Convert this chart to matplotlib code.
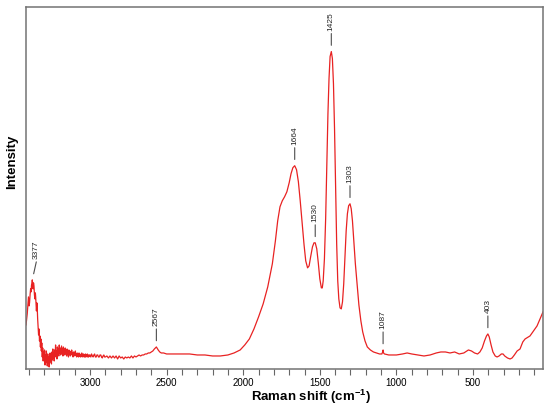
import numpy as np
import matplotlib
matplotlib.use("Agg")
import matplotlib.pyplot as plt

plt.rcParams['font.family'] = ['Liberation Sans', 'DejaVu Sans']
plt.rcParams['mathtext.fontset'] = 'custom'
plt.rcParams['mathtext.rm'] = 'Liberation Sans'
plt.rcParams['mathtext.bf'] = 'Liberation Sans:bold'

# Raman spectrum (shift in cm-1, intensity in arbitrary units)
# noisy high-wavenumber end
shift_hi = [
    3418, 3414, 3410, 3406, 3402, 3398, 3395, 3391, 3388, 3385, 3382, 3379, 3377, 3374,
    3372, 3369, 3366, 3363, 3360, 3357, 3355, 3352, 3350, 3347, 3345, 3342, 3340,
    3336, 3333, 3330, 3327, 3324, 3321, 3318, 3315, 3312, 3309, 3306, 3303, 3300, 3297,
    3294, 3291, 3288, 3285, 3282, 3279, 3276, 3273, 3270, 3267, 3264, 3261, 3258, 3255,
    3252, 3249, 3246, 3243, 3240, 3237, 3234, 3231, 3228, 3225, 3222, 3219, 3216, 3213,
    3210, 3207, 3204, 3201, 3198, 3195, 3192, 3189, 3186, 3183, 3180, 3177, 3174, 3171,
    3168, 3165, 3162, 3159, 3156, 3153, 3150, 3147, 3144, 3141, 3138, 3135, 3132, 3129,
    3126, 3123, 3120, 3117, 3114, 3111, 3108, 3105, 3102, 3099, 3096, 3093, 3090, 3087,
    3084, 3081, 3078, 3075, 3072, 3069, 3066, 3063, 3060, 3057, 3054, 3051, 3048, 3045,
    3042, 3039, 3036, 3033, 3030, 3027, 3024, 3021, 3018, 3015, 3012, 3009, 3006, 3003,
    3000, 2995, 2990, 2985, 2980, 2975, 2970, 2965, 2960, 2955, 2950, 2945, 2940, 2935,
    2930, 2925, 2920, 2915, 2910, 2905, 2900, 2890, 2880, 2870, 2860, 2850, 2840, 2830,
    2820, 2810, 2800, 2790, 2780, 2770, 2760, 2750, 2740, 2730, 2720, 2710, 2700,
]
intensity_hi = [
    44, 50, 55, 64, 72, 63, 66, 75, 80, 77, 84, 86, 89, 83,
    80, 86, 83, 74, 70, 76, 72, 63, 58, 66, 62, 50, 45,
    34, 40, 28, 33, 22, 30, 18, 26, 12, 21, 8, 17, 11, 19,
    4, 14, 7, 18, 9, 3, 15, 6, 12, 2, 10, 16, 7, 13,
    5, 17, 9, 20, 11, 15, 8, 19, 12, 24, 14, 18, 10, 22,
    15, 20, 13, 24, 16, 21, 14, 19, 23, 15, 20, 13, 22, 17,
    19, 14, 21, 16, 18, 13, 20, 15, 17, 12, 19, 15, 18, 13,
    17, 14, 19, 15, 16, 12, 17, 14, 16, 13, 18, 14, 15, 12,
    16, 13, 15, 12, 16, 13, 15, 12, 14, 13, 16, 12, 14, 13,
    15, 12, 14, 12, 15, 12, 14, 13, 15, 12, 14, 12, 14, 13,
    14, 12, 15, 13, 12, 14, 15, 12, 12, 14, 14, 12, 12, 14,
    14, 12, 11, 13, 14, 12, 12, 13, 11, 13, 11, 13, 11, 13,
    10, 13, 11, 12, 10, 12, 11, 12, 11, 13, 11, 13, 12,
]
# smoother remainder of the spectrum
shift_lo = [
    2690, 2680, 2670, 2660, 2650, 2640, 2630, 2620, 2610, 2600, 2590, 2580,
    2567, 2555, 2545, 2535, 2520, 2500, 2450, 2400, 2350, 2300, 2250, 2200, 2150, 2100,
    2060, 2020, 1990, 1960, 1930, 1900, 1870, 1840, 1810, 1790, 1775, 1760, 1745, 1730,
    1715, 1700, 1688, 1676, 1664, 1652, 1640, 1628, 1615, 1603, 1592, 1580, 1570, 1560,
    1548, 1538, 1530, 1520, 1510, 1500, 1490, 1484, 1478, 1470, 1462, 1455, 1447, 1440,
    1433, 1425, 1418, 1411, 1404, 1397, 1390, 1383, 1376, 1368, 1360, 1352, 1344, 1336,
    1328, 1320, 1312, 1303, 1295, 1287, 1278, 1268, 1257, 1245, 1232, 1220, 1205, 1190,
    1170, 1150, 1130, 1110, 1095, 1090, 1087, 1084, 1078, 1050, 1000, 960, 930, 900,
    860, 820, 780, 740, 710, 680, 650, 620, 590, 560, 530, 510, 490, 470,
    455, 440, 425, 412, 403, 394, 382, 370, 355, 343, 330, 315, 304, 293,
    275, 258, 245, 230, 212, 193, 175, 160, 128, 100, 82, 60, 43,
]
intensity_lo = [
    13, 14, 13, 14, 14, 15, 15, 16, 16, 17, 18, 20,
    22, 19, 17, 16, 16, 15, 15, 15, 15, 14, 14, 13, 13, 14,
    16, 19, 24, 30, 40, 52, 65, 82, 105, 128, 148, 162, 168, 172,
    177, 186, 195, 201, 203, 199, 187, 168, 145, 124, 108, 101, 103, 112,
    122, 126, 126, 120, 106, 90, 81, 81, 88, 110, 150, 200, 255, 290,
    312, 317, 310, 285, 240, 180, 125, 88, 70, 61, 60, 67, 85, 112,
    138, 155, 163, 165, 160, 148, 128, 105, 85, 64, 48, 37, 28, 22,
    19, 17, 16, 15, 15, 17, 19, 16, 15, 14, 14, 15, 16, 15,
    14, 13, 14, 16, 17, 17, 16, 17, 15, 16, 19, 18, 16, 15,
    17, 21, 28, 33, 35, 32, 24, 17, 13, 12, 13, 15, 15, 13,
    11, 10, 11, 14, 18, 20, 27, 30, 33, 39, 43, 51, 57,
]

peak_pos = [3377, 2567, 1664, 1530, 1425, 1303, 1087, 403]
peak_labels = ['3377', '2567', '1664', '1530', '1425', '1303', '1087', '403']

shift = shift_hi + shift_lo
intensity = intensity_hi + intensity_lo
sx = np.array(shift[::-1], dtype=float)
sy = np.array(intensity[::-1], dtype=float)

fig = plt.figure(figsize=(5.5, 4.05), dpi=100)
ax = fig.add_axes([0.0473, 0.0889, 0.9400, 0.8926])

ax.plot(shift, intensity, color='#e82222', lw=0.9)

for p, lab in zip(peak_pos, peak_labels):
    h = np.interp(p, sx, sy)
    dx = 4 if p == 3377 else 0
    ax.annotate('', xy=(p, h), xycoords='data',
                xytext=(dx, 18), textcoords='offset pixels',
                arrowprops=dict(arrowstyle='-', color='0.3', lw=0.8,
                                shrinkA=0, shrinkB=4.5))
    ax.annotate(lab, xy=(p, h), xycoords='data',
                xytext=(dx, 21), textcoords='offset pixels',
                rotation=90, ha='center', va='bottom', fontsize=6, color='0.15')

ax.set_xlim(3418, 43)
ax.set_ylim(0, 361)
ax.set_xticks([3000, 2500, 2000, 1500, 1000, 500])
ax.set_xticks(np.arange(100, 3401, 100), minor=True)
ax.set_yticks([])
ax.tick_params(axis='x', which='both', length=4, width=0.8, color='0.4',
               labelsize=7, pad=2.5)
for s in ax.spines.values():
    s.set_color('0.45')
    s.set_linewidth(1.1)

ax.set_xlabel(r'Raman shift (cm$^{\mathbf{-1}}$)', fontsize=9.5, fontweight='bold')
ax.xaxis.set_label_coords(0.551, -0.053)
ax.set_ylabel('Intensity', fontsize=9.5, fontweight='bold')
ax.yaxis.set_label_coords(-0.0155, 0.573)

fig.savefig('out.png', dpi=100)
